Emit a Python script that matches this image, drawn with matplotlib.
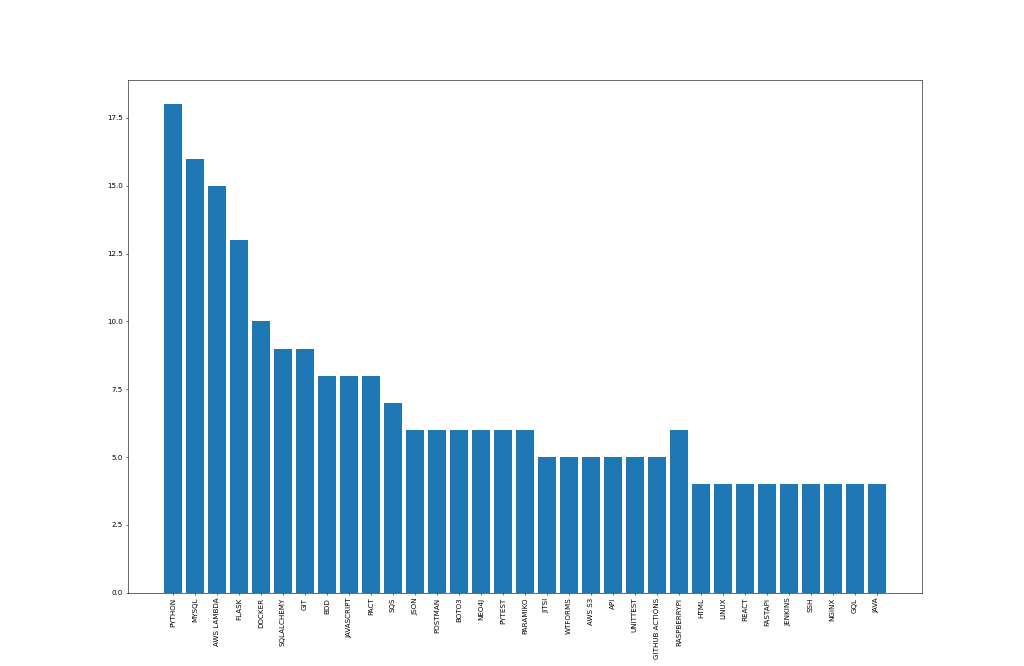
import matplotlib
matplotlib.use("Agg")
import matplotlib.pyplot as plt

skills = ["PYTHON", "MYSQL", "AWS LAMBDA", "FLASK", "DOCKER", "SQLALCHEMY", "GIT", "BDD",
          "JAVASCRIPT", "PACT", "SQS", "JSON", "POSTMAN", "BOTO3", "NEO4J", "PYTEST",
          "PARAMIKO", "JITSI", "WTFORMS", "AWS S3", "API", "UNITTEST", "GITHUB ACTIONS",
          "RASPBERRYPI", "HTML", "LINUX", "REACT", "FASTAPI", "JENKINS", "SSH", "NGINX",
          "GQL", "JAVA"]
counts = [18, 16, 15, 13, 10, 9, 9, 8, 8, 8, 7, 6, 6, 6, 6, 6, 6, 5, 5, 5, 5, 5, 5,
          6, 4, 4, 4, 4, 4, 4, 4, 4, 4]

fig = plt.figure(figsize=(20, 666 / 51.2), dpi=51.2)
ax = fig.add_subplot(111)
ax.bar(skills, counts)
plt.xticks(rotation=90)
fig.savefig("out.png", dpi=51.2)
